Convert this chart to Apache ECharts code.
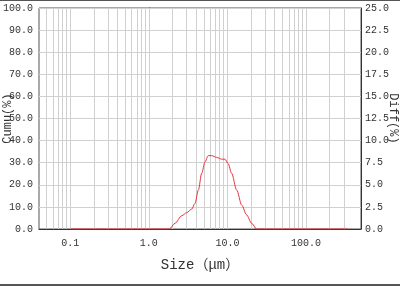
<!DOCTYPE html>
<html>
<head>
<meta charset="utf-8">
<script src="https://cdn.jsdelivr.net/npm/echarts@6/dist/echarts.min.js"></script>
<style>html,body{margin:0;padding:0;background:#fff}#c{width:400px;height:286px}</style>
</head>
<body>
<div id="c"></div>
<script>
// Particle size (µm) and differential volume (%)
var sizes = [0.1, 1.82, 2.15, 2.62, 3.03, 3.51, 3.86, 4.26, 4.70, 5.18, 5.70, 6.30, 7.29, 8.44, 9.29, 10.2, 11.3, 13.1, 15.2, 17.5, 20.3, 23.5, 340];
var diff  = [0,   0,    0.65, 1.5,  1.85, 2.25, 2.9,  4.4,  6.3,  7.6,  8.3,  8.3,  8.1,  7.9,  7.9,  7.4,  6.3,  4.4,  2.7,  1.6,  0.65, 0,    0];
var xTickLabels = [0.1, 1, 10, 100];
var xGridValues = [0.05,0.06,0.07,0.08,0.09,0.1,0.2,0.3,0.4,0.5,0.6,0.7,0.8,0.9,1,2,3,4,5,6,7,8,9,10,20,30,40,50,60,70,80,90,100,200,300];
var xMinSize = 0.04, xMaxSize = 500;

var lg = function (v) { return Math.log10(v); };
var font = '"Liberation Mono", "Noto Sans CJK SC", monospace';
var chart = echarts.init(document.getElementById('c'));
chart.setOption({
  animation: false,
  grid: {left: 39, right: 39, top: 8, bottom: 57, containLabel: false, outerBoundsMode: 'none',
    show: true, borderColor: '#555', borderWidth: 1},
  xAxis: {
    type: 'value', min: lg(xMinSize), max: lg(xMaxSize),
    name: 'Size（μm）', nameLocation: 'middle', nameGap: 29, nameMoveOverlap: false,
    nameTextStyle: {fontFamily: font, fontSize: 14, color: '#333'},
    axisLine: {lineStyle: {color: '#333'}},
    axisTick: {show: false},
    splitLine: {show: false},
    axisLabel: {customValues: xTickLabels.map(lg), fontFamily: font, fontSize: 10, color: '#333', margin: 9,
      formatter: function (v) { return Math.pow(10, v).toFixed(1); }}
  },
  yAxis: [{
    type: 'value', min: 0, max: 100, interval: 10,
    name: 'Cumu(%)', nameLocation: 'middle', nameGap: 25, nameMoveOverlap: false,
    nameTextStyle: {fontFamily: font, fontSize: 12, color: '#333'},
    axisLine: {show: true, lineStyle: {color: '#333'}},
    axisTick: {show: false},
    splitLine: {lineStyle: {color: '#d0d0d0'}},
    axisLabel: {fontFamily: font, fontSize: 10, color: '#333', margin: 6, formatter: function (v) { return v.toFixed(1); }}
  }, {
    type: 'value', min: 0, max: 25, interval: 2.5, position: 'right',
    name: 'Diff(%)', nameLocation: 'middle', nameGap: 26, nameRotate: -90, nameMoveOverlap: false,
    nameTextStyle: {fontFamily: font, fontSize: 12, color: '#333'},
    axisLine: {show: true, lineStyle: {color: '#333'}},
    axisTick: {show: false},
    splitLine: {show: false},
    axisLabel: {fontFamily: font, fontSize: 10, color: '#333', margin: 4, formatter: function (v) { return v.toFixed(1); }}
  }],
  graphic: [
    {type: 'rect', shape: {x: 0, y: 0, width: 400, height: 1}, style: {fill: '#555'}},
    {type: 'rect', shape: {x: 0, y: 284, width: 400, height: 2}, style: {fill: '#555'}}
  ],
  series: [{
    type: 'line', yAxisIndex: 1, data: [], silent: true, z: 1,
    markLine: {silent: true, symbol: 'none', label: {show: false}, animation: false,
      lineStyle: {color: '#d0d0d0', type: 'solid', width: 1},
      data: xGridValues.map(function (v) { return {xAxis: lg(v)}; })}
  }, {
    type: 'line', yAxisIndex: 1, z: 5,
    data: sizes.map(function (s, i) { return [lg(s), diff[i]]; }),
    smooth: 0.3, smoothMonotone: 'x', showSymbol: false,
    lineStyle: {color: '#e8323c', width: 1}
  }]
});
</script>
</body>
</html>
